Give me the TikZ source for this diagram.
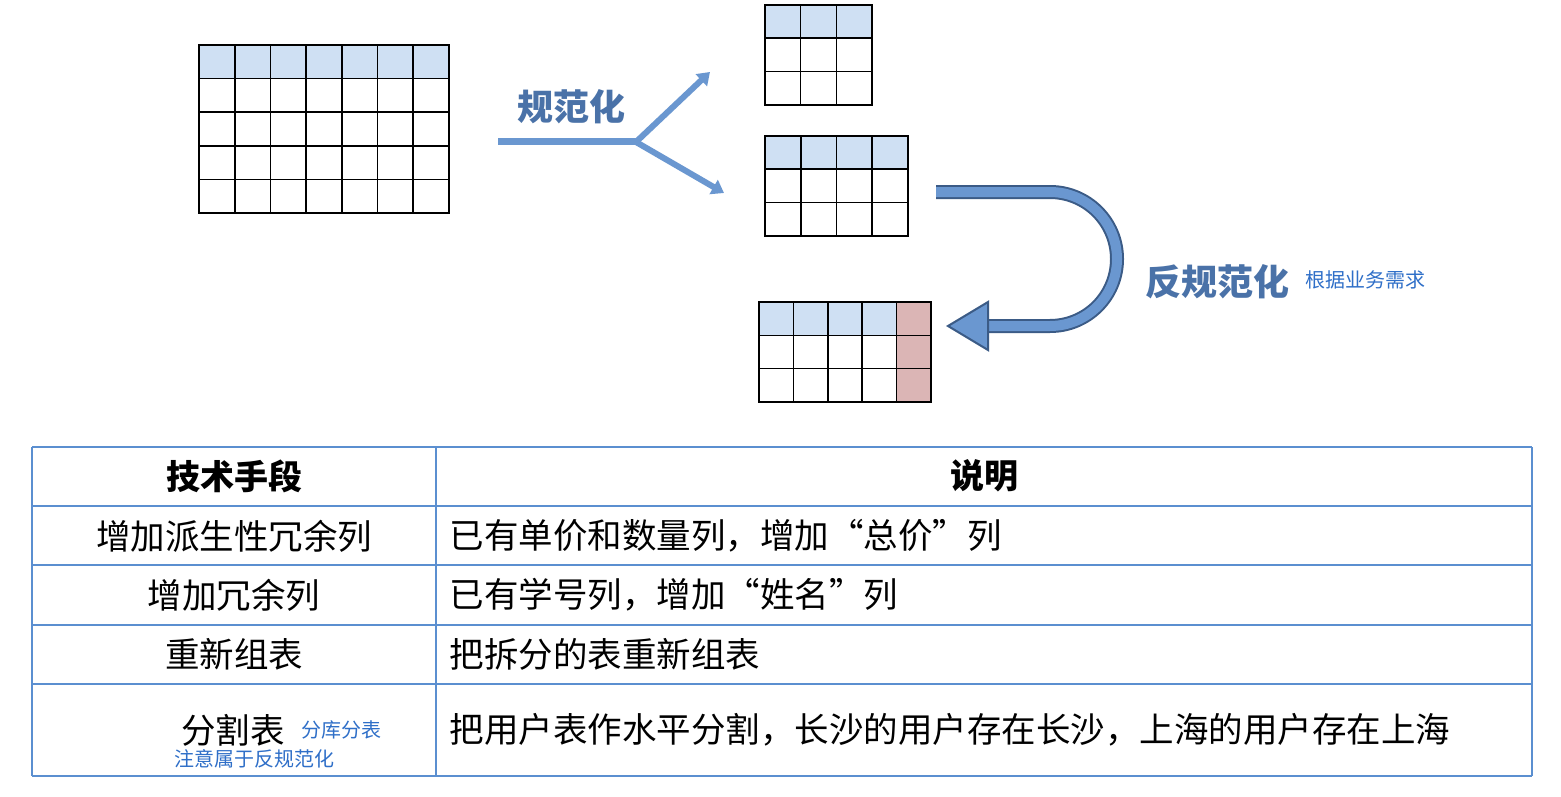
\documentclass[tikz,border=0pt]{standalone}
\usepackage{fontspec}
\setmainfont{Noto Sans CJK SC}
\usetikzlibrary{arrows.meta}
\definecolor{hdr}{HTML}{CFE0F3}
\definecolor{pinkc}{HTML}{DBB5B5}
\definecolor{arr}{HTML}{6A97D0}
\definecolor{lbl}{HTML}{4A72A8}
\definecolor{tline}{HTML}{5B8FD0}
\definecolor{note}{HTML}{2F6FC8}
\tikzset{
 cell/.style={draw=black,line width=1.6pt},
 big/.style={font=\fontsize{34.5}{34}\selectfont,text=black},
 bigb/.style={font=\fontsize{34}{34}\selectfont\bfseries,text=black},
 lab/.style={font=\fontsize{36}{36}\selectfont\bfseries,text=lbl},
 small/.style={font=\fontsize{20}{20}\selectfont,text=note},
}
\newcommand{\grid}[7]{% x0 y0 cols rows w h pinklast
 \foreach \c in {1,...,#3}{\foreach \r in {1,...,#4}{
  \pgfmathsetmacro\xa{#1+(\c-1)*#5}\pgfmathsetmacro\ya{#2+(\r-1)*#6}
  \ifnum\r=1 \def\fc{hdr}\else\def\fc{white}\fi
  \ifnum#7=1 \ifnum\c=#3 \def\fc{pinkc}\fi\fi
  \path[cell,fill=\fc] (\xa,\ya) rectangle ++(#5,#6);}}}
\begin{document}
\begin{tikzpicture}[x=1pt,y=-1pt]
\useasboundingbox[fill=white] (0,0) rectangle (1561,797);
\grid{199}{45}{7}{5}{35.71}{33.6}{0}
\grid{765}{5}{3}{3}{35.67}{33.3}{0}
\grid{765}{136}{4}{3}{35.75}{33.3}{0}
\grid{759}{302}{5}{3}{34.4}{33.3}{1}
% normalization arrow
\coordinate (s) at (498,142); \coordinate (j) at (636,142);
\coordinate (u) at (710,72); \coordinate (d) at (724,193);
\draw[arr,line width=7pt] (s) -- (j);
\draw[arr,line width=6pt,-{Triangle[length=12pt,width=16pt]}] (j) -- (u);
\draw[arr,line width=6pt,-{Triangle[length=12pt,width=16pt]}] (j) -- (d);
\node[lab] (l1) at (571,107) {规范化};
% denormalization arrow
\coordinate (a0) at (936,192); \coordinate (a1) at (1050,192);
\coordinate (a3) at (948,326);
\draw[draw=lbl!80!black,line width=14pt] (a0) -- (a1) arc[start angle=-90,end angle=90,radius=67] -- ++(-64,0);
\draw[draw=arr,line width=10pt] (a0) -- (a1) arc[start angle=-90,end angle=90,radius=67] -- ++(-64,0);
\fill[arr,draw=lbl!80!black,line width=2pt] (a3) -- (988,302) -- (988,350) -- cycle;
\node[lab] (l2) at (1217,282) {反规范化};
\node[small] (n1) at (1365,280) {根据业务需求};
% table
\foreach \y in {447,506,565,625,684,776}{\draw[tline,line width=1.5pt] (32,\y) -- (1532,\y);}
\draw[tline,line width=1.5pt] (32,447) -- (32,776) (436,447) -- (436,776) (1532,447) -- (1532,776);
\node[bigb] (h1) at (234,476) {技术手段};
\node[bigb] (h2) at (984,476) {说明};
\node[big] (r1) at (234,536) {增加派生性冗余列};
\node[big] (r2) at (234,595) {增加冗余列};
\node[big] (r3) at (234,654) {重新组表};
\node[big] (r4) at (233,730) {分割表};
\node[small] (n2) at (341,730) {分库分表};
\node[small] (n3) at (254,759) {注意属于反规范化};
\node[big,anchor=west] (d1) at (446,536) {已有单价和数量列，增加“总价”列};
\node[big,anchor=west] (d2) at (446,595) {已有学号列，增加“姓名”列};
\node[big,anchor=west] (d3) at (446,654) {把拆分的表重新组表};
\node[big,anchor=west] (d4) at (446,730) {把用户表作水平分割，长沙的用户存在长沙，上海的用户存在上海};
\end{tikzpicture}
\end{document}
